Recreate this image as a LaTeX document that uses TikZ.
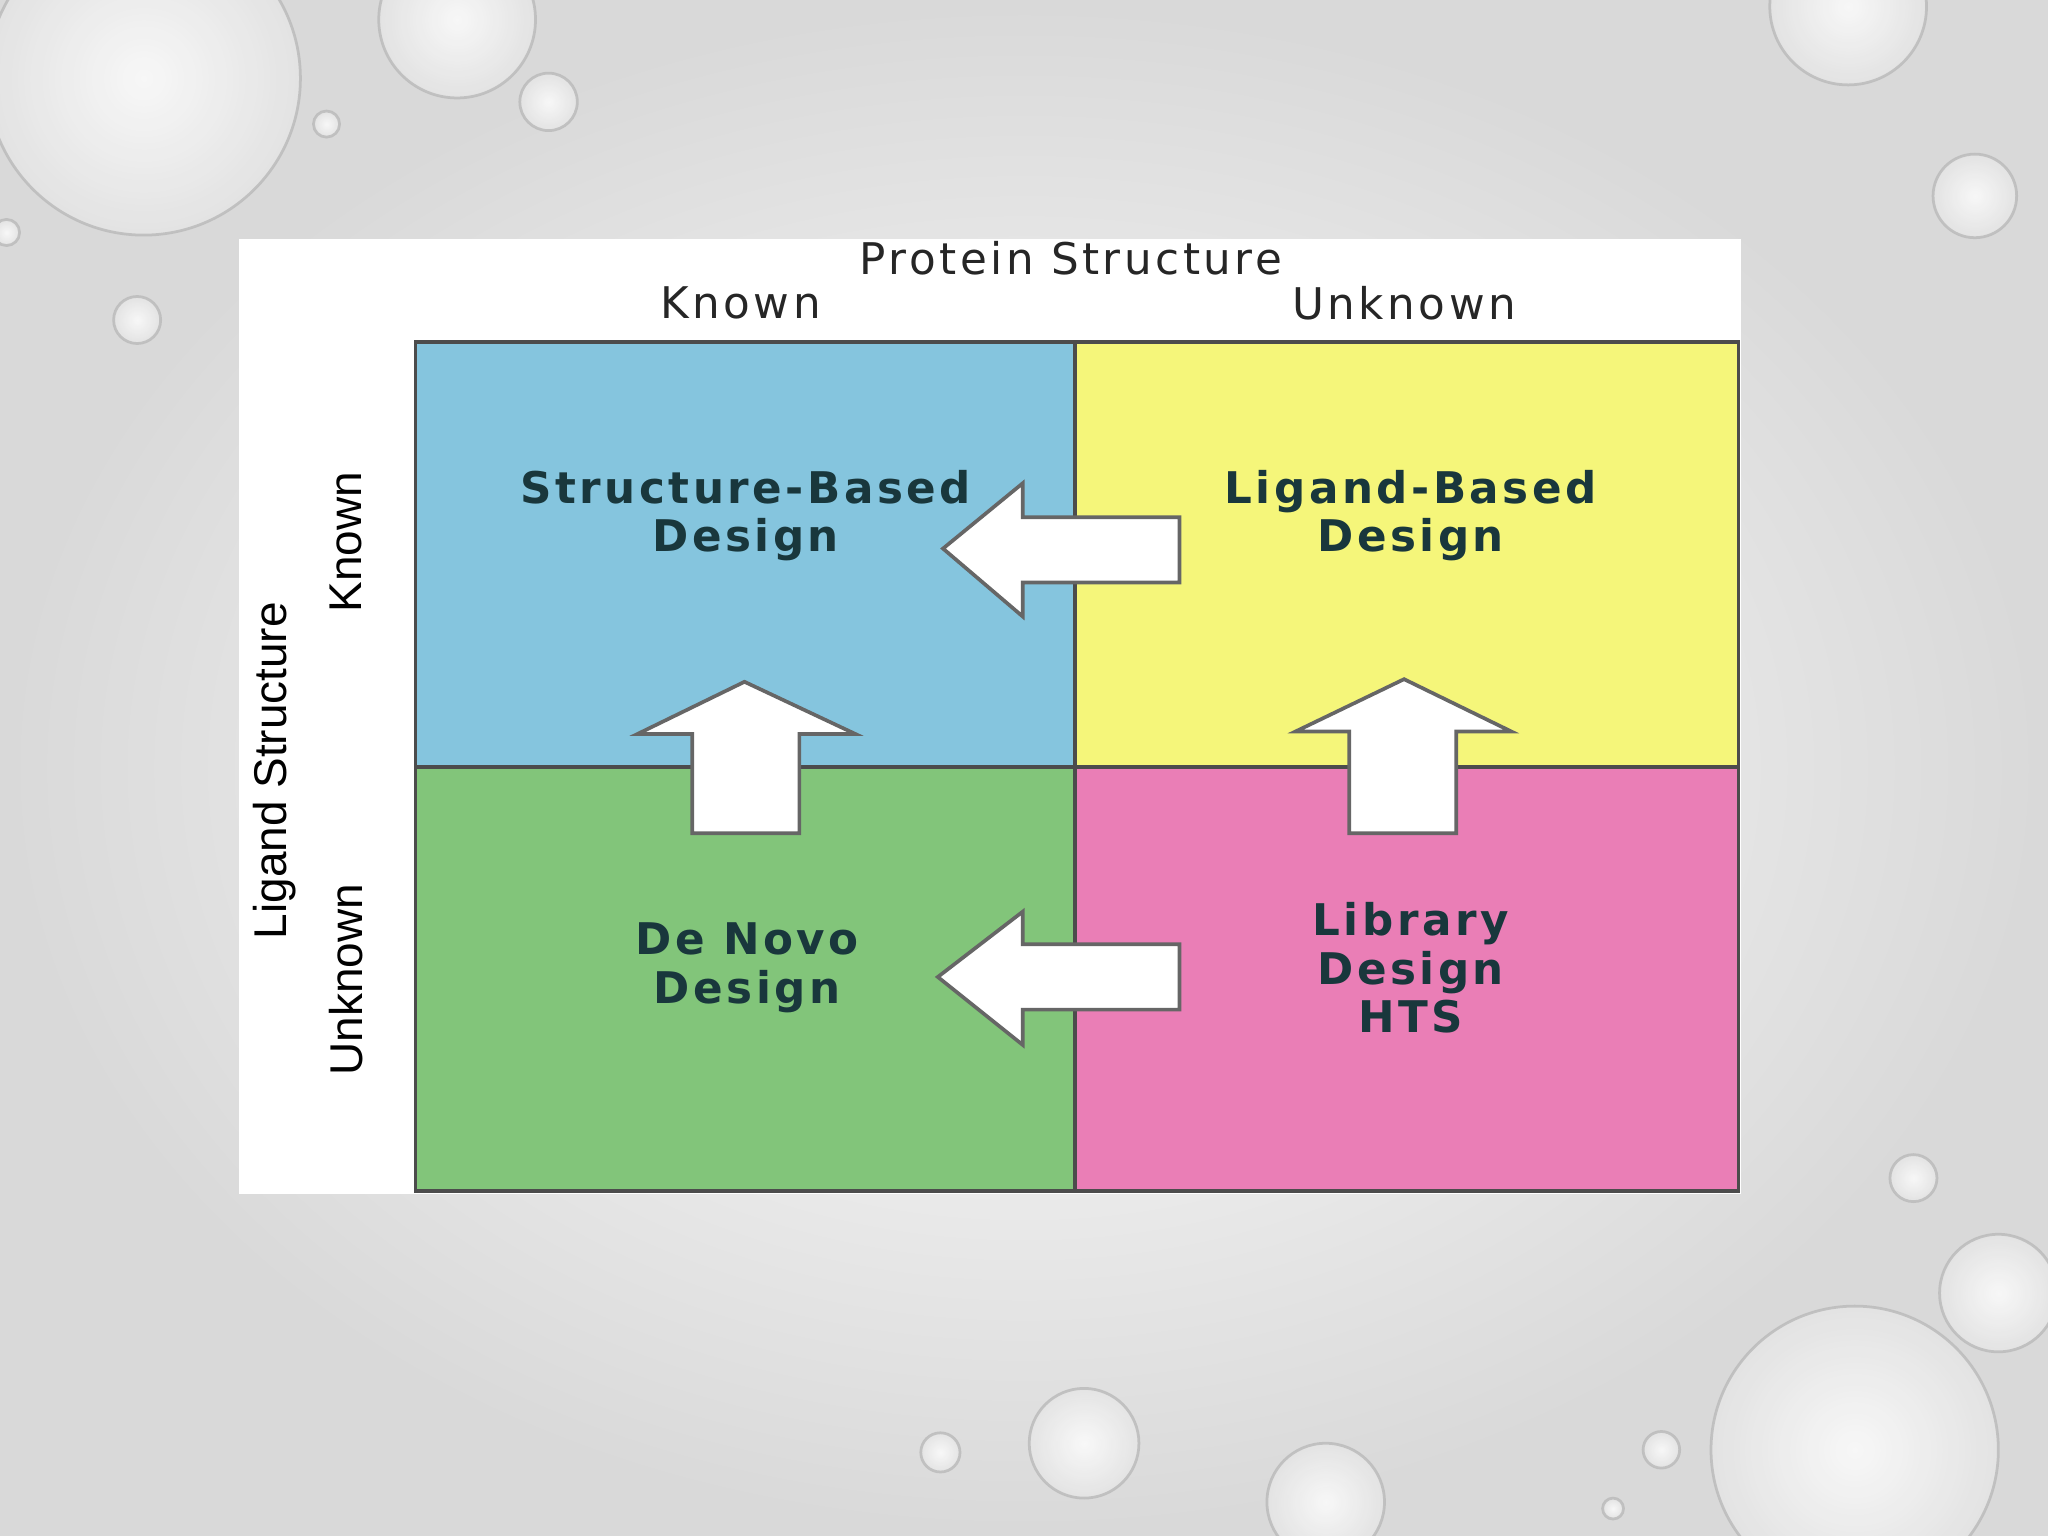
\documentclass[tikz,border=0pt]{standalone}
\usepackage{fontspec}
\setmainfont{DejaVu Sans}
\newfontfamily\lab[LetterSpace=8]{DejaVu Sans}
\newfontfamily\side{Liberation Sans}
\definecolor{cblue}{RGB}{133,197,222}
\definecolor{cyel}{RGB}{245,246,122}
\definecolor{cgreen}{RGB}{130,197,122}
\definecolor{cpink}{RGB}{234,126,182}
\definecolor{ctxt}{RGB}{25,55,60}
\tikzset{cell/.style={draw=black!70,line width=0.8pt},
 arr/.style={fill=white,draw=black!60,line width=0.8pt},
 lbl/.style={font=\lab\bfseries\fontsize{9.5}{10.5}\selectfont,text=ctxt,align=center},
 hdr/.style={font=\lab\fontsize{9.5}{10.5}\selectfont,text=black!85},
 drop/.style={draw=gray!55,line width=0.6pt,inner color=white,outer color=gray!20,opacity=0.8}}
\begin{document}
\begin{tikzpicture}[x=0.01cm,y=-0.01cm]
\useasboundingbox (0,0) rectangle (1568,1176);
\shade[inner color=white,outer color=gray!30] (0,0) rectangle (1568,1176);
\foreach \x/\y/\r in {110/60/120,350/15/60,420/78/22,250/95/10,105/245/18,5/178/10,1415/5/60,1512/150/32,1465/902/18,1530/990/45,1420/1110/110,830/1105/42,1015/1150/45,720/1112/15,1272/1110/14,1235/1155/8}
  \shade[drop] (\x,\y) circle (\r);
\fill[white] (183,183) rectangle (1333,914);
\fill[cblue] (318,262) rectangle (823,587);
\fill[cyel] (823,262) rectangle (1331,587);
\fill[cgreen] (318,587) rectangle (823,912);
\fill[cpink] (823,587) rectangle (1331,912);
\draw[cell] (318,262) rectangle (1331,912);
\draw[cell] (823,262) -- (823,912);
\draw[cell] (318,587) -- (1331,587);
\node[hdr] (ps) at (820,198) {Protein Structure};
\node[hdr] (pk) at (567,232) {Known};
\node[hdr] (pu) at (1075,232) {Unknown};
\node[font=\side\fontsize{10}{12}\selectfont,rotate=90] (ls) at (210,590) {Ligand Structure};
\node[font=\side\fontsize{10}{12}\selectfont,rotate=90] (lk) at (265,415) {Known};
\node[font=\side\fontsize{10}{12}\selectfont,rotate=90] (lu) at (265,750) {Unknown};
\draw[arr] (722,420) -- (783,370) -- (783,396) -- (903,396) -- (903,446) -- (783,446) -- (783,472) -- cycle;
\draw[arr] (718,748) -- (783,698) -- (783,723) -- (903,723) -- (903,773) -- (783,773) -- (783,800) -- cycle;
\draw[arr] (570,522) -- (655,562) -- (612,562) -- (612,638) -- (530,638) -- (530,562) -- (488,562) -- cycle;
\draw[arr] (1075,520) -- (1157,560) -- (1115,560) -- (1115,638) -- (1033,638) -- (1033,560) -- (992,560) -- cycle;
\node[lbl] (sb) at (571,395) {Structure-Based\\Design};
\node[lbl] (lb) at (1080,395) {Ligand-Based\\Design};
\node[lbl] (dn) at (572,741) {De Novo\\Design};
\node[lbl] (lib) at (1080,741) {Library\\Design\\HTS};
\end{tikzpicture}
\end{document}
